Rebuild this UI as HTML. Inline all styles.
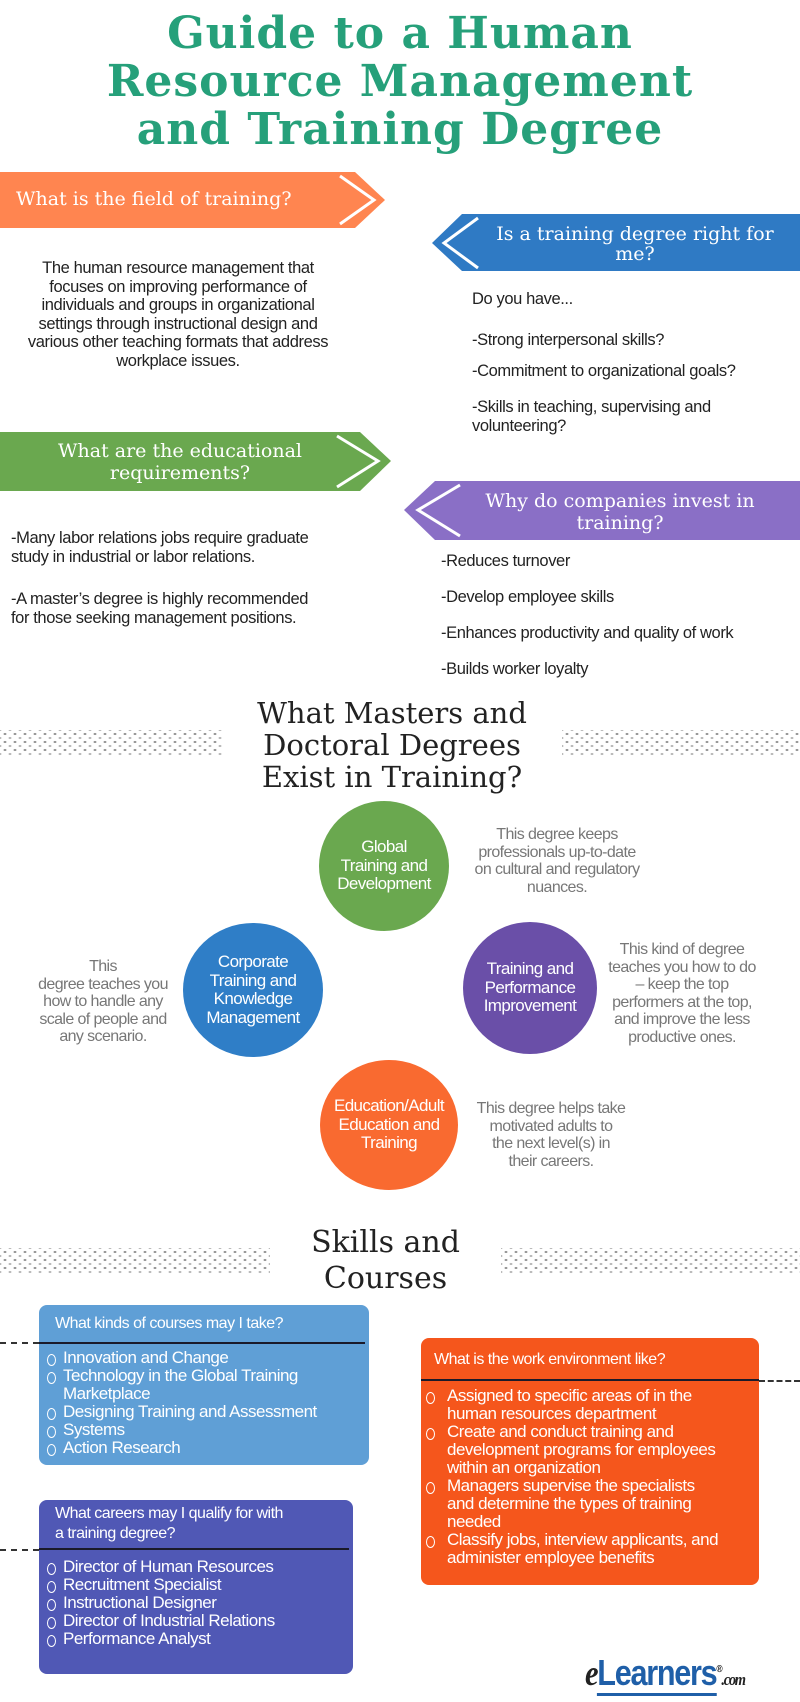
<!DOCTYPE html>
<html><head><meta charset="utf-8"><style>
*{margin:0;padding:0;box-sizing:border-box}
body{width:800px;height:1702px;position:relative;background:#fff;font-family:"Liberation Sans",sans-serif;overflow:hidden}
.a{position:absolute}
.t{color:#26a07a;font-family:"DejaVu Serif",serif;font-weight:bold;font-size:44px;text-align:center;width:800px;left:0;letter-spacing:1px}
.bt{font-family:"DejaVu Serif",serif;color:#fff;font-size:19px;line-height:22px;text-align:center}
.p{font-size:16.5px;color:#222;line-height:18.5px;letter-spacing:-0.4px;white-space:nowrap}
.h2{font-family:"DejaVu Serif",serif;font-size:29px;color:#222;text-align:center;line-height:32px}
.dots{background-image:radial-gradient(#999 1.3px,transparent 1.6px),radial-gradient(#bbb 1.3px,transparent 1.6px);background-size:10px 8px,10px 8px;background-position:0 0,5px 4px}
.c{border-radius:50%;color:#fff;font-size:17px;line-height:18.5px;text-align:center;display:flex;align-items:center;justify-content:center;letter-spacing:-0.6px}
.d{color:#777;font-size:16px;line-height:17.5px;text-align:center;letter-spacing:-0.6px;white-space:nowrap}
.box{border-radius:8px;color:#fff;letter-spacing:-0.5px}
.box .hd{font-size:16px;line-height:19px;padding:0 0 0 16px;white-space:nowrap}
.box .ln{height:2px;background:#1a1a2a;margin-right:4px}
.box ul{list-style:none;font-size:17px;line-height:18px;padding-left:8px;white-space:nowrap}
.box li{padding-left:16px;position:relative}
.box li:before{content:"";position:absolute;left:0;top:5px;width:7px;height:10px;border:1px solid #fff;border-radius:50%}
.dash{border-top:2px dashed #333;height:0}
</style></head><body>
<div class="a t" style="top:8px">Guide to a Human</div>
<div class="a t" style="top:56px">Resource Management</div>
<div class="a t" style="top:104px">and Training Degree</div>

<svg class="a" style="left:0;top:0" width="800" height="700">
<polygon points="0,172 355,172 385,200 355,228 0,228" fill="#ff8550"/>
<polyline points="340,176 374,200 340,224" fill="none" stroke="#fff" stroke-width="3"/>
<polygon points="800,214 462,214 432,243 462,271 800,271" fill="#2f7ac4"/>
<polyline points="478,218 444,243 478,268" fill="none" stroke="#fff" stroke-width="3"/>
<polygon points="0,432 360,432 391,461 360,491 0,491" fill="#6aa84f"/>
<polyline points="337,436 378,461 337,487" fill="none" stroke="#fff" stroke-width="3"/>
<polygon points="800,481 435,481 404,510 435,540 800,540" fill="#8a6fc6"/>
<polyline points="460,485 418,510 460,536" fill="none" stroke="#fff" stroke-width="3"/>
</svg>
<div class="a bt" style="left:0;top:188px;width:350px;text-align:left;padding-left:16px">What is the field of training?</div>
<div class="a bt" style="left:465px;top:224px;width:340px;line-height:20px">Is a training degree right for<br>me?</div>
<div class="a bt" style="left:20px;top:440px;width:320px">What are the educational<br>requirements?</div>
<div class="a bt" style="left:455px;top:490px;width:330px">Why do companies invest in<br>training?</div>

<div class="a p" style="left:0;top:259px;width:356px;text-align:center">The human resource management that<br>focuses on improving performance of<br>individuals and groups in organizational<br>settings through instructional design and<br>various other teaching formats that address<br>workplace issues.</div>
<div class="a p" style="left:472px;top:290px">Do you have...</div>
<div class="a p" style="left:472px;top:331px">-Strong interpersonal skills?</div>
<div class="a p" style="left:472px;top:362px">-Commitment to organizational goals?</div>
<div class="a p" style="left:472px;top:398px">-Skills in teaching, supervising and<br>volunteering?</div>
<div class="a p" style="left:11px;top:529px">-Many labor relations jobs require graduate<br>study in industrial or labor relations.</div>
<div class="a p" style="left:11px;top:590px">-A master’s degree is highly recommended<br>for those seeking management positions.</div>
<div class="a p" style="left:441px;top:552px">-Reduces turnover</div>
<div class="a p" style="left:441px;top:588px">-Develop employee skills</div>
<div class="a p" style="left:441px;top:624px">-Enhances productivity and quality of work</div>
<div class="a p" style="left:441px;top:660px">-Builds worker loyalty</div>

<div class="a dots" style="left:0;top:730px;width:222px;height:27px"></div>
<div class="a dots" style="left:562px;top:730px;width:238px;height:27px"></div>
<div class="a h2" style="left:222px;top:697px;width:340px">What Masters and Doctoral Degrees Exist in Training?</div>

<div class="a c" style="left:319px;top:801px;width:130px;height:130px;background:#6aa84f">Global<br>Training and<br>Development</div>
<div class="a c" style="left:183px;top:923px;width:140px;height:134px;background:#2f7ec7">Corporate<br>Training and<br>Knowledge<br>Management</div>
<div class="a c" style="left:463px;top:922px;width:134px;height:132px;background:#6a4fa8">Training and<br>Performance<br>Improvement</div>
<div class="a c" style="left:320px;top:1060px;width:138px;height:130px;background:#f96a30">Education/Adult<br>Education and<br>Training</div>
<div class="a d" style="left:457px;top:826px;width:200px">This degree keeps<br>professionals up-to-date<br>on cultural and regulatory<br>nuances.</div>
<div class="a d" style="left:28px;top:958px;width:150px">This<br>degree teaches you<br>how to handle any<br>scale of people and<br>any scenario.</div>
<div class="a d" style="left:599px;top:941px;width:166px">This kind of degree<br>teaches you how to do<br>– keep the top<br>performers at the top,<br>and improve the less<br>productive ones.</div>
<div class="a d" style="left:465px;top:1100px;width:172px">This degree helps take<br>motivated adults to<br>the next level(s) in<br>their careers.</div>

<div class="a dots" style="left:0;top:1248px;width:270px;height:26px"></div>
<div class="a dots" style="left:501px;top:1248px;width:299px;height:26px"></div>
<div class="a h2" style="left:270px;top:1225px;width:231px;font-size:30px;line-height:36px">Skills and Courses</div>

<div class="a dash" style="left:0;top:1342px;width:39px"></div>
<div class="a dash" style="left:0;top:1549px;width:39px"></div>
<div class="a dash" style="left:759px;top:1380px;width:41px"></div>

<div class="a box" style="left:39px;top:1305px;width:330px;height:160px;background:#5f9fd6">
<div class="hd" style="padding-top:9px;height:37px">What kinds of courses may I take?</div>
<div class="ln"></div>
<ul style="padding-top:5px"><li>Innovation and Change</li><li>Technology in the Global Training<br>Marketplace</li><li>Designing Training and Assessment</li><li>Systems</li><li>Action Research</li></ul>
</div>
<div class="a box" style="left:39px;top:1500px;width:314px;height:174px;background:#5058b5">
<div class="hd" style="padding-top:4px;height:48px;line-height:20px">What careers may I qualify for with<br>a training degree?</div>
<div class="ln"></div>
<ul style="padding-top:8px"><li>Director of Human Resources</li><li>Recruitment Specialist</li><li>Instructional Designer</li><li>Director of Industrial Relations</li><li>Performance Analyst</li></ul>
</div>
<div class="a box" style="left:421px;top:1338px;width:338px;height:247px;background:#f5561c">
<div class="hd" style="padding-top:12px;height:41px;padding-left:13px">What is the work environment like?</div>
<div class="ln" style="margin-right:0"></div>
<ul style="padding-top:6px;padding-left:5px;line-height:18px"><li style="padding-left:21px">Assigned to specific areas of in the<br>human resources department</li><li style="padding-left:21px">Create and conduct training and<br>development programs for employees<br>within an organization</li><li style="padding-left:21px">Managers supervise the specialists<br>and determine the types of training<br>needed</li><li style="padding-left:21px">Classify jobs, interview applicants, and<br>administer employee benefits</li></ul>
</div>

<div class="a" style="left:585px;top:1650px;font-size:36px;font-weight:bold;letter-spacing:-1.5px;color:#222;line-height:40px;transform:scaleX(0.85);transform-origin:left;white-space:nowrap"><span style="font-style:italic;font-family:'Liberation Serif',serif">e</span><span style="color:#1f5fa8;border-bottom:3px solid #1f5fa8">Learners</span><sup style="font-size:10px">®</sup><span style="font-size:17px;font-style:italic;font-family:'Liberation Serif',serif">.com</span></div>
</body></html>
